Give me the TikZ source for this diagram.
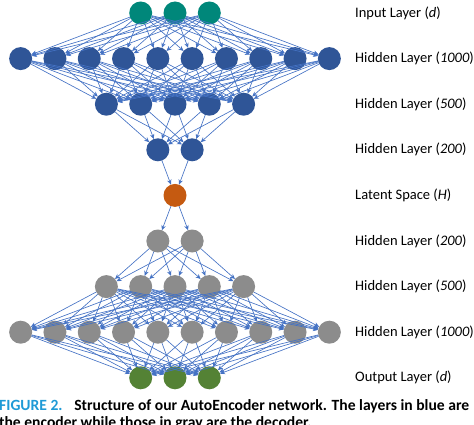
\documentclass[tikz,border=0pt]{standalone}
\usepackage{fontspec}
\setmainfont{Carlito}
\usetikzlibrary{arrows.meta}
\definecolor{inputteal}{HTML}{00877A}
\definecolor{encblue}{HTML}{2F5597}
\definecolor{latorange}{HTML}{C55A11}
\definecolor{decgray}{HTML}{8C8C8C}
\definecolor{outgreen}{HTML}{548235}
\definecolor{linkblue}{HTML}{4472C4}
\definecolor{capblue}{HTML}{1F9AD6}
\begin{document}
\begin{tikzpicture}[x=1pt, y=-1pt,
  main/.style = {circle, minimum size=23pt, inner sep=0pt, outer sep=0pt},
  link/.style = {draw=linkblue, line width=0.65pt, -{Stealth[length=5pt,width=4.5pt]}},
  lbl/.style = {anchor=west, inner sep=0pt, font=\fontsize{14.5}{16}\selectfont}]
\useasboundingbox (0,0) rectangle (474,425);

% layers: index / number of nodes / colour
\foreach \k/\n/\c in {0/3/inputteal, 1/10/encblue, 2/5/encblue, 3/2/encblue,
                      4/1/latorange, 5/2/decgray, 6/5/decgray, 7/10/decgray, 8/3/outgreen}
  \foreach \i in {1,...,\n}
    \node[main, fill=\c] (l\k-\i) at ({175+34.3*(\i-(\n+1)/2)}, {13+45.6*\k}) {};

% fully connected links
\foreach \k/\n/\m [evaluate=\k as \kk using int(\k+1)] in
    {0/3/10, 1/10/5, 2/5/2, 3/2/1, 4/1/2, 5/2/5, 6/5/10, 7/10/3}
  \foreach \a in {1,...,\n}
    \foreach \b in {1,...,\m}
      \draw[link] (l\k-\a) -- (l\kk-\b);

% layer names
\node[lbl] (t0) at (355,13) {Input Layer (\textit{d})};
\node[lbl] (t1) at (355,58.6) {Hidden Layer (\textit{1000})};
\node[lbl] (t2) at (355,104.2) {Hidden Layer (\textit{500})};
\node[lbl] (t3) at (355,149.8) {Hidden Layer (\textit{200})};
\node[lbl] (t4) at (355,195.4) {Latent Space (\textit{H})};
\node[lbl] (t5) at (355,241) {Hidden Layer (\textit{200})};
\node[lbl] (t6) at (355,286.6) {Hidden Layer (\textit{500})};
\node[lbl] (t7) at (355,332.2) {Hidden Layer (\textit{1000})};
\node[lbl] (t8) at (355,377.8) {Output Layer (\textit{d})};

% caption
\node[anchor=north west, inner sep=0pt, align=left,
      font=\fontsize{15.6}{17}\selectfont\bfseries] (cap) at (-1,399)
  {\textcolor{capblue}{FIGURE 2.}\hspace{0.45em} Structure of our AutoEncoder network. The layers in blue are\\
   the encoder while those in gray are the decoder.};
\end{tikzpicture}
\end{document}
